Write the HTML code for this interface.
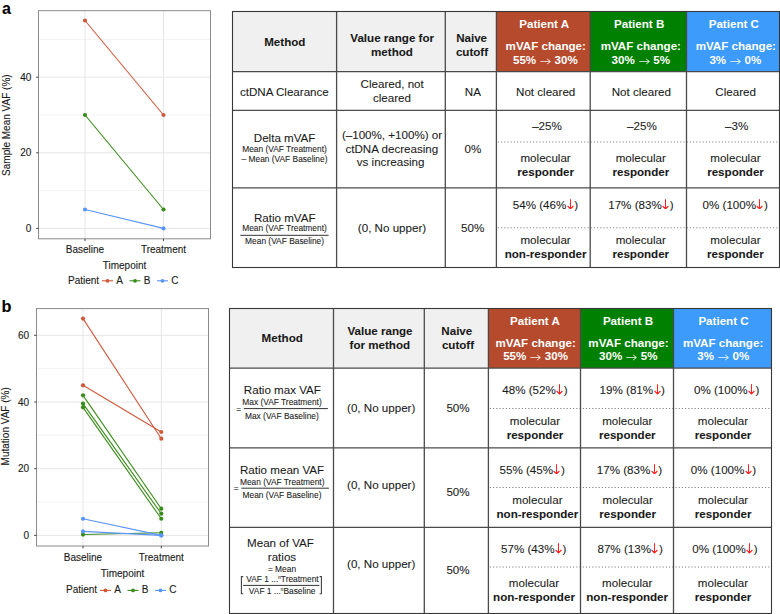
<!DOCTYPE html>
<html><head><meta charset="utf-8"><style>
html,body{margin:0;padding:0;background:#fff;}
body{width:780px;height:614px;position:relative;overflow:hidden;font-family:"Liberation Sans",sans-serif;}
.t{position:absolute;white-space:nowrap;-webkit-text-stroke:0.08px currentColor;}
svg text{stroke:#1c1c1c;stroke-width:0.12px;}
sup{font-size:55%;vertical-align:top;position:relative;top:-1px;}
</style></head><body>
<svg width="230" height="614" viewBox="0 0 230 614" style="position:absolute;left:0;top:0" font-family="Liberation Sans, sans-serif" fill="#1c1c1c"><line x1="38.5" x2="210.5" y1="190.60" y2="190.60" stroke="#f0f0f0" stroke-width="0.8"/><line x1="38.5" x2="210.5" y1="115.00" y2="115.00" stroke="#f0f0f0" stroke-width="0.8"/><line x1="38.5" x2="210.5" y1="39.40" y2="39.40" stroke="#f0f0f0" stroke-width="0.8"/><line x1="38.5" x2="210.5" y1="228.40" y2="228.40" stroke="#e6e6e6" stroke-width="1"/><line x1="38.5" x2="210.5" y1="152.80" y2="152.80" stroke="#e6e6e6" stroke-width="1"/><line x1="38.5" x2="210.5" y1="77.20" y2="77.20" stroke="#e6e6e6" stroke-width="1"/><line x1="85" x2="85" y1="10.7" y2="238.8" stroke="#e6e6e6" stroke-width="1"/><line x1="163.5" x2="163.5" y1="10.7" y2="238.8" stroke="#e6e6e6" stroke-width="1"/><line x1="85" y1="20.50" x2="163.5" y2="115.00" stroke="#d0593b" stroke-width="1.1"/><line x1="85" y1="115.00" x2="163.5" y2="209.50" stroke="#3a8c1a" stroke-width="1.1"/><line x1="85" y1="209.50" x2="163.5" y2="228.40" stroke="#5b95f5" stroke-width="1.1"/><circle cx="85" cy="20.50" r="2.1" fill="#d0593b"/><circle cx="163.5" cy="115.00" r="2.1" fill="#d0593b"/><circle cx="85" cy="115.00" r="2.1" fill="#3a8c1a"/><circle cx="163.5" cy="209.50" r="2.1" fill="#3a8c1a"/><circle cx="85" cy="209.50" r="2.1" fill="#5b95f5"/><circle cx="163.5" cy="228.40" r="2.1" fill="#5b95f5"/><rect x="38.5" y="10.7" width="172.0" height="228.10000000000002" fill="none" stroke="#8a8a8a" stroke-width="1"/><line x1="36.2" x2="38.5" y1="228.40" y2="228.40" stroke="#444" stroke-width="1"/><text x="31.3" y="231.90" text-anchor="end" font-size="10.0">0</text><line x1="36.2" x2="38.5" y1="152.80" y2="152.80" stroke="#444" stroke-width="1"/><text x="31.3" y="156.30" text-anchor="end" font-size="10.0">20</text><line x1="36.2" x2="38.5" y1="77.20" y2="77.20" stroke="#444" stroke-width="1"/><text x="31.3" y="80.70" text-anchor="end" font-size="10.0">40</text><line x1="85" x2="85" y1="238.8" y2="241.10000000000002" stroke="#444" stroke-width="1"/><line x1="163.5" x2="163.5" y1="238.8" y2="241.10000000000002" stroke="#444" stroke-width="1"/><text x="85" y="253.3" text-anchor="middle" font-size="10.0">Baseline</text><text x="163.5" y="253.3" text-anchor="middle" font-size="10.0">Treatment</text><text x="124.5" y="268.7" text-anchor="middle" font-size="10.0">Timepoint</text><text transform="translate(10.3,175.9) rotate(-90)" x="0" y="0" font-size="10.0">Sample Mean VAF (%)</text><text x="68" y="283.7" font-size="10.0">Patient</text><line x1="102.0" x2="113.0" y1="280.8" y2="280.8" stroke="#d0593b" stroke-width="1.1"/><circle cx="107.5" cy="280.8" r="1.9" fill="#d0593b"/><text x="116.3" y="283.7" font-size="10.0">A</text><line x1="129.5" x2="140.5" y1="280.8" y2="280.8" stroke="#3a8c1a" stroke-width="1.1"/><circle cx="135.0" cy="280.8" r="1.9" fill="#3a8c1a"/><text x="143.8" y="283.7" font-size="10.0">B</text><line x1="157.0" x2="168.0" y1="280.8" y2="280.8" stroke="#5b95f5" stroke-width="1.1"/><circle cx="162.5" cy="280.8" r="1.9" fill="#5b95f5"/><text x="171.3" y="283.7" font-size="10.0">C</text><line x1="36.5" x2="208.5" y1="502.05" y2="502.05" stroke="#f0f0f0" stroke-width="0.8"/><line x1="36.5" x2="208.5" y1="435.35" y2="435.35" stroke="#f0f0f0" stroke-width="0.8"/><line x1="36.5" x2="208.5" y1="368.65" y2="368.65" stroke="#f0f0f0" stroke-width="0.8"/><line x1="36.5" x2="208.5" y1="535.40" y2="535.40" stroke="#e6e6e6" stroke-width="1"/><line x1="36.5" x2="208.5" y1="468.70" y2="468.70" stroke="#e6e6e6" stroke-width="1"/><line x1="36.5" x2="208.5" y1="402.00" y2="402.00" stroke="#e6e6e6" stroke-width="1"/><line x1="36.5" x2="208.5" y1="335.30" y2="335.30" stroke="#e6e6e6" stroke-width="1"/><line x1="83" x2="83" y1="308.6" y2="546" stroke="#e6e6e6" stroke-width="1"/><line x1="161.3" x2="161.3" y1="308.6" y2="546" stroke="#e6e6e6" stroke-width="1"/><line x1="83" y1="318.62" x2="161.3" y2="438.68" stroke="#d0593b" stroke-width="1.1"/><line x1="83" y1="385.32" x2="161.3" y2="432.01" stroke="#d0593b" stroke-width="1.1"/><line x1="83" y1="395.33" x2="161.3" y2="508.72" stroke="#3a8c1a" stroke-width="1.1"/><line x1="83" y1="403.67" x2="161.3" y2="513.72" stroke="#3a8c1a" stroke-width="1.1"/><line x1="83" y1="407.34" x2="161.3" y2="518.73" stroke="#3a8c1a" stroke-width="1.1"/><line x1="83" y1="534.57" x2="161.3" y2="532.73" stroke="#3a8c1a" stroke-width="1.1"/><line x1="83" y1="518.73" x2="161.3" y2="535.40" stroke="#5b95f5" stroke-width="1.1"/><line x1="83" y1="531.40" x2="161.3" y2="535.40" stroke="#5b95f5" stroke-width="1.1"/><circle cx="83" cy="318.62" r="2.1" fill="#d0593b"/><circle cx="161.3" cy="438.68" r="2.1" fill="#d0593b"/><circle cx="83" cy="385.32" r="2.1" fill="#d0593b"/><circle cx="161.3" cy="432.01" r="2.1" fill="#d0593b"/><circle cx="83" cy="395.33" r="2.1" fill="#3a8c1a"/><circle cx="161.3" cy="508.72" r="2.1" fill="#3a8c1a"/><circle cx="83" cy="403.67" r="2.1" fill="#3a8c1a"/><circle cx="161.3" cy="513.72" r="2.1" fill="#3a8c1a"/><circle cx="83" cy="407.34" r="2.1" fill="#3a8c1a"/><circle cx="161.3" cy="518.73" r="2.1" fill="#3a8c1a"/><circle cx="83" cy="534.57" r="2.1" fill="#3a8c1a"/><circle cx="161.3" cy="532.73" r="2.1" fill="#3a8c1a"/><circle cx="83" cy="518.73" r="2.1" fill="#5b95f5"/><circle cx="161.3" cy="535.40" r="2.1" fill="#5b95f5"/><circle cx="83" cy="531.40" r="2.1" fill="#5b95f5"/><circle cx="161.3" cy="535.40" r="2.1" fill="#5b95f5"/><rect x="36.5" y="308.6" width="172.0" height="237.39999999999998" fill="none" stroke="#8a8a8a" stroke-width="1"/><line x1="34.2" x2="36.5" y1="535.40" y2="535.40" stroke="#444" stroke-width="1"/><text x="29.1" y="538.90" text-anchor="end" font-size="10.0">0</text><line x1="34.2" x2="36.5" y1="468.70" y2="468.70" stroke="#444" stroke-width="1"/><text x="29.1" y="472.20" text-anchor="end" font-size="10.0">20</text><line x1="34.2" x2="36.5" y1="402.00" y2="402.00" stroke="#444" stroke-width="1"/><text x="29.1" y="405.50" text-anchor="end" font-size="10.0">40</text><line x1="34.2" x2="36.5" y1="335.30" y2="335.30" stroke="#444" stroke-width="1"/><text x="29.1" y="338.80" text-anchor="end" font-size="10.0">60</text><line x1="83" x2="83" y1="546" y2="548.3" stroke="#444" stroke-width="1"/><line x1="161.3" x2="161.3" y1="546" y2="548.3" stroke="#444" stroke-width="1"/><text x="83" y="560.8" text-anchor="middle" font-size="10.0">Baseline</text><text x="161.3" y="560.8" text-anchor="middle" font-size="10.0">Treatment</text><text x="122.5" y="577" text-anchor="middle" font-size="10.0">Timepoint</text><text transform="translate(8.8,465.4) rotate(-90)" x="0" y="0" font-size="10.0">Mutation VAF (%)</text><text x="66" y="593.3" font-size="10.0">Patient</text><line x1="100.0" x2="111.0" y1="590.4" y2="590.4" stroke="#d0593b" stroke-width="1.1"/><circle cx="105.5" cy="590.4" r="1.9" fill="#d0593b"/><text x="114.3" y="593.3" font-size="10.0">A</text><line x1="127.5" x2="138.5" y1="590.4" y2="590.4" stroke="#3a8c1a" stroke-width="1.1"/><circle cx="133.0" cy="590.4" r="1.9" fill="#3a8c1a"/><text x="141.8" y="593.3" font-size="10.0">B</text><line x1="155.0" x2="166.0" y1="590.4" y2="590.4" stroke="#5b95f5" stroke-width="1.1"/><circle cx="160.5" cy="590.4" r="1.9" fill="#5b95f5"/><text x="169.3" y="593.3" font-size="10.0">C</text></svg>
<div style="position:absolute;left:232px;top:11px;width:264.40px;height:60.60px;background:#f0f0f0;"></div>
<div style="position:absolute;left:496.40px;top:11px;width:93.80px;height:60.60px;background:#b64a2c;"></div>
<div style="position:absolute;left:590.20px;top:11px;width:96.30px;height:60.60px;background:#008000;"></div>
<div style="position:absolute;left:686.50px;top:11px;width:92.90px;height:60.60px;background:#3d9bfc;"></div>
<div style="position:absolute;left:229.60px;top:308px;width:258.80px;height:60.20px;background:#f0f0f0;"></div>
<div style="position:absolute;left:488.40px;top:308px;width:92.10px;height:60.20px;background:#b64a2c;"></div>
<div style="position:absolute;left:580.50px;top:308px;width:93px;height:60.20px;background:#008000;"></div>
<div style="position:absolute;left:673.50px;top:308px;width:98px;height:60.20px;background:#3d9bfc;"></div>
<svg width="780" height="614" style="position:absolute;left:0;top:0"><line x1="497.9" x2="778.9" y1="142.0" y2="142.0" stroke="#7a7a7a" stroke-width="1" stroke-dasharray="1.1 2.1"/><line x1="497.9" x2="778.9" y1="227.8" y2="227.8" stroke="#7a7a7a" stroke-width="1" stroke-dasharray="1.1 2.1"/><line x1="336.6" x2="336.6" y1="11" y2="267.3" stroke="#4a4a4a" stroke-width="1.3"/><line x1="445.3" x2="445.3" y1="11" y2="267.3" stroke="#4a4a4a" stroke-width="1.3"/><line x1="496.4" x2="496.4" y1="11" y2="267.3" stroke="#4a4a4a" stroke-width="1.3"/><line x1="590.2" x2="590.2" y1="11" y2="267.3" stroke="#4a4a4a" stroke-width="1.3"/><line x1="686.5" x2="686.5" y1="11" y2="267.3" stroke="#4a4a4a" stroke-width="1.3"/><line x1="232" x2="779.4" y1="71.6" y2="71.6" stroke="#4a4a4a" stroke-width="1.3"/><line x1="232" x2="779.4" y1="110.3" y2="110.3" stroke="#4a4a4a" stroke-width="1.3"/><line x1="232" x2="779.4" y1="187.8" y2="187.8" stroke="#4a4a4a" stroke-width="1.3"/><rect x="232.5" y="11.5" width="547" height="256" fill="none" stroke="#383838" stroke-width="1.1"/><line x1="240.3" x2="328.6" y1="235.3" y2="235.3" stroke="#333" stroke-width="1.0"/><line x1="489.9" x2="771.0" y1="408.5" y2="408.5" stroke="#7a7a7a" stroke-width="1" stroke-dasharray="1.1 2.1"/><line x1="489.9" x2="771.0" y1="487.5" y2="487.5" stroke="#7a7a7a" stroke-width="1" stroke-dasharray="1.1 2.1"/><line x1="489.9" x2="771.0" y1="567.0" y2="567.0" stroke="#7a7a7a" stroke-width="1" stroke-dasharray="1.1 2.1"/><line x1="333.5" x2="333.5" y1="308" y2="613.4" stroke="#4a4a4a" stroke-width="1.3"/><line x1="424.3" x2="424.3" y1="308" y2="613.4" stroke="#4a4a4a" stroke-width="1.3"/><line x1="488.4" x2="488.4" y1="308" y2="613.4" stroke="#4a4a4a" stroke-width="1.3"/><line x1="580.5" x2="580.5" y1="308" y2="613.4" stroke="#4a4a4a" stroke-width="1.3"/><line x1="673.5" x2="673.5" y1="308" y2="613.4" stroke="#4a4a4a" stroke-width="1.3"/><line x1="229.6" x2="771.5" y1="368.2" y2="368.2" stroke="#4a4a4a" stroke-width="1.3"/><line x1="229.6" x2="771.5" y1="447.8" y2="447.8" stroke="#4a4a4a" stroke-width="1.3"/><line x1="229.6" x2="771.5" y1="527.4" y2="527.4" stroke="#4a4a4a" stroke-width="1.3"/><rect x="229.5" y="308.5" width="542" height="305" fill="none" stroke="#383838" stroke-width="1.1"/><line x1="243.8" x2="327.9" y1="408.6" y2="408.6" stroke="#333" stroke-width="1.0"/><line x1="241.4" x2="328.9" y1="488.2" y2="488.2" stroke="#333" stroke-width="1.0"/><line x1="243.1" x2="319.4" y1="585.4" y2="585.4" stroke="#333" stroke-width="1.0"/><path d="M243.2,576.6 L241.4,576.6 L241.4,593.8 L243.2,593.8" fill="none" stroke="#444" stroke-width="1.1"/><path d="M319.6,576.6 L321.4,576.6 L321.4,593.8 L319.6,593.8" fill="none" stroke="#444" stroke-width="1.1"/></svg>
<div class="t" style="left:134.80px;top:34.73px;width:300px;font-size:11.6px;line-height:14.5px;text-align:center;color:#1a1a1a;font-weight:bold;">Method</div>
<div class="t" style="left:242.20px;top:30.93px;width:300px;font-size:11.6px;line-height:14.5px;text-align:center;color:#1a1a1a;font-weight:bold;">Value range for</div>
<div class="t" style="left:242px;top:44.93px;width:300px;font-size:11.6px;line-height:14.5px;text-align:center;color:#1a1a1a;font-weight:bold;">method</div>
<div class="t" style="left:321.60px;top:30.93px;width:300px;font-size:11.6px;line-height:14.5px;text-align:center;color:#1a1a1a;font-weight:bold;">Naive</div>
<div class="t" style="left:322px;top:44.93px;width:300px;font-size:11.6px;line-height:14.5px;text-align:center;color:#1a1a1a;font-weight:bold;">cutoff</div>
<div class="t" style="left:394.20px;top:17.03px;width:300px;font-size:11.6px;line-height:14.5px;text-align:center;color:#fff;font-weight:bold;-webkit-text-stroke:0;">Patient A</div>
<div class="t" style="left:395.75px;top:38.93px;width:300px;font-size:11.6px;line-height:14.5px;text-align:center;color:#fff;font-weight:bold;-webkit-text-stroke:0;">mVAF change:</div>
<div class="t" style="left:395.40px;top:52.73px;width:300px;font-size:11.6px;line-height:14.5px;text-align:center;color:#fff;font-weight:bold;-webkit-text-stroke:0;">55% <svg width="11" height="7" viewBox="0 0 11 7" style="vertical-align:-0.8px;margin:0 0.5px"><line x1="0.3" y1="3.5" x2="10" y2="3.5" stroke="#fff" stroke-opacity="0.85" stroke-width="0.85"/><path d="M7.2,1 L10.4,3.5 L7.2,6" fill="none" stroke="#fff" stroke-width="0.9"/></svg> 30%</div>
<div class="t" style="left:489.20px;top:17.03px;width:300px;font-size:11.6px;line-height:14.5px;text-align:center;color:#fff;font-weight:bold;-webkit-text-stroke:0;">Patient B</div>
<div class="t" style="left:490.80px;top:38.93px;width:300px;font-size:11.6px;line-height:14.5px;text-align:center;color:#fff;font-weight:bold;-webkit-text-stroke:0;">mVAF change:</div>
<div class="t" style="left:490.80px;top:52.73px;width:300px;font-size:11.6px;line-height:14.5px;text-align:center;color:#fff;font-weight:bold;-webkit-text-stroke:0;">30% <svg width="11" height="7" viewBox="0 0 11 7" style="vertical-align:-0.8px;margin:0 0.5px"><line x1="0.3" y1="3.5" x2="10" y2="3.5" stroke="#fff" stroke-opacity="0.85" stroke-width="0.85"/><path d="M7.2,1 L10.4,3.5 L7.2,6" fill="none" stroke="#fff" stroke-width="0.9"/></svg> 5%</div>
<div class="t" style="left:583.80px;top:17.03px;width:300px;font-size:11.6px;line-height:14.5px;text-align:center;color:#fff;font-weight:bold;-webkit-text-stroke:0;">Patient C</div>
<div class="t" style="left:585.80px;top:38.93px;width:300px;font-size:11.6px;line-height:14.5px;text-align:center;color:#fff;font-weight:bold;-webkit-text-stroke:0;">mVAF change:</div>
<div class="t" style="left:585.40px;top:52.73px;width:300px;font-size:11.6px;line-height:14.5px;text-align:center;color:#fff;font-weight:bold;-webkit-text-stroke:0;">3% <svg width="11" height="7" viewBox="0 0 11 7" style="vertical-align:-0.8px;margin:0 0.5px"><line x1="0.3" y1="3.5" x2="10" y2="3.5" stroke="#fff" stroke-opacity="0.85" stroke-width="0.85"/><path d="M7.2,1 L10.4,3.5 L7.2,6" fill="none" stroke="#fff" stroke-width="0.9"/></svg> 0%</div>
<div class="t" style="left:134.35px;top:84.83px;width:300px;font-size:11.6px;line-height:14.5px;text-align:center;color:#1a1a1a;">ctDNA Clearance</div>
<div class="t" style="left:242.20px;top:77.13px;width:300px;font-size:11.6px;line-height:14.5px;text-align:center;color:#1a1a1a;">Cleared, not</div>
<div class="t" style="left:241.90px;top:91.33px;width:300px;font-size:11.6px;line-height:14.5px;text-align:center;color:#1a1a1a;">cleared</div>
<div class="t" style="left:322.90px;top:84.83px;width:300px;font-size:11.6px;line-height:14.5px;text-align:center;color:#1a1a1a;">NA</div>
<div class="t" style="left:395.70px;top:84.83px;width:300px;font-size:11.6px;line-height:14.5px;text-align:center;color:#1a1a1a;">Not cleared</div>
<div class="t" style="left:491.30px;top:84.83px;width:300px;font-size:11.6px;line-height:14.5px;text-align:center;color:#1a1a1a;">Not cleared</div>
<div class="t" style="left:585.60px;top:84.83px;width:300px;font-size:11.6px;line-height:14.5px;text-align:center;color:#1a1a1a;">Cleared</div>
<div class="t" style="left:134.60px;top:131.13px;width:300px;font-size:11.6px;line-height:14.5px;text-align:center;color:#1a1a1a;">Delta mVAF</div>
<div class="t" style="left:134.50px;top:144.04px;width:300px;font-size:8.4px;line-height:10.5px;text-align:center;color:#1a1a1a;">Mean (VAF Treatment)</div>
<div class="t" style="left:134.50px;top:153.54px;width:300px;font-size:8.4px;line-height:10.5px;text-align:center;color:#1a1a1a;">&#8211; Mean (VAF Baseline)</div>
<div class="t" style="left:242px;top:127.73px;width:300px;font-size:11.6px;line-height:14.5px;text-align:center;color:#1a1a1a;">(&#8211;100%, +100%) or</div>
<div class="t" style="left:241.85px;top:141.53px;width:300px;font-size:11.6px;line-height:14.5px;text-align:center;color:#1a1a1a;">ctDNA decreasing</div>
<div class="t" style="left:240.60px;top:155.43px;width:300px;font-size:11.6px;line-height:14.5px;text-align:center;color:#1a1a1a;">vs increasing</div>
<div class="t" style="left:323px;top:142.13px;width:300px;font-size:11.6px;line-height:14.5px;text-align:center;color:#1a1a1a;">0%</div>
<div class="t" style="left:397px;top:118.93px;width:300px;font-size:11.6px;line-height:14.5px;text-align:center;color:#1a1a1a;">&#8211;25%</div>
<div class="t" style="left:395.60px;top:151.03px;width:300px;font-size:11.6px;line-height:14.5px;text-align:center;color:#1a1a1a;">molecular</div>
<div class="t" style="left:395.70px;top:164.63px;width:300px;font-size:11.6px;line-height:14.5px;text-align:center;color:#1a1a1a;font-weight:bold;">responder</div>
<div class="t" style="left:491.90px;top:118.93px;width:300px;font-size:11.6px;line-height:14.5px;text-align:center;color:#1a1a1a;">&#8211;25%</div>
<div class="t" style="left:490.80px;top:151.03px;width:300px;font-size:11.6px;line-height:14.5px;text-align:center;color:#1a1a1a;">molecular</div>
<div class="t" style="left:490.90px;top:164.63px;width:300px;font-size:11.6px;line-height:14.5px;text-align:center;color:#1a1a1a;font-weight:bold;">responder</div>
<div class="t" style="left:586.70px;top:118.93px;width:300px;font-size:11.6px;line-height:14.5px;text-align:center;color:#1a1a1a;">&#8211;3%</div>
<div class="t" style="left:585.40px;top:151.03px;width:300px;font-size:11.6px;line-height:14.5px;text-align:center;color:#1a1a1a;">molecular</div>
<div class="t" style="left:585.50px;top:164.63px;width:300px;font-size:11.6px;line-height:14.5px;text-align:center;color:#1a1a1a;font-weight:bold;">responder</div>
<div class="t" style="left:134.75px;top:211.03px;width:300px;font-size:11.6px;line-height:14.5px;text-align:center;color:#1a1a1a;">Ratio mVAF</div>
<div class="t" style="left:134.50px;top:222.94px;width:300px;font-size:8.4px;line-height:10.5px;text-align:center;color:#1a1a1a;">Mean (VAF Treatment)</div>
<div class="t" style="left:134.60px;top:236.44px;width:300px;font-size:8.4px;line-height:10.5px;text-align:center;color:#1a1a1a;">Mean (VAF Baseline)</div>
<div class="t" style="left:242px;top:220.93px;width:300px;font-size:11.6px;line-height:14.5px;text-align:center;color:#1a1a1a;">(0, No upper)</div>
<div class="t" style="left:322.60px;top:220.93px;width:300px;font-size:11.6px;line-height:14.5px;text-align:center;color:#1a1a1a;">50%</div>
<div class="t" style="left:395.45px;top:197.53px;width:300px;font-size:11.6px;line-height:14.5px;text-align:center;color:#1a1a1a;">54% (46%<svg width="7" height="10.5" viewBox="0 0 7 10.5" style="vertical-align:-0.6px;margin:0 0.6px 0 0.4px"><line x1="3.5" y1="0.2" x2="3.5" y2="9.4" stroke="#ff2020" stroke-width="1"/><path d="M0.6,7.0 L3.5,9.9 L6.4,7.0" fill="none" stroke="#ff2020" stroke-width="1.1"/><path d="M2,8.1 L3.5,9.9 L5,8.1 Z" fill="#ff2020"/></svg>)</div>
<div class="t" style="left:395.60px;top:233.03px;width:300px;font-size:11.6px;line-height:14.5px;text-align:center;color:#1a1a1a;">molecular</div>
<div class="t" style="left:395.60px;top:246.53px;width:300px;font-size:11.6px;line-height:14.5px;text-align:center;color:#1a1a1a;font-weight:bold;">non-responder</div>
<div class="t" style="left:490.90px;top:197.53px;width:300px;font-size:11.6px;line-height:14.5px;text-align:center;color:#1a1a1a;">17% (83%<svg width="7" height="10.5" viewBox="0 0 7 10.5" style="vertical-align:-0.6px;margin:0 0.6px 0 0.4px"><line x1="3.5" y1="0.2" x2="3.5" y2="9.4" stroke="#ff2020" stroke-width="1"/><path d="M0.6,7.0 L3.5,9.9 L6.4,7.0" fill="none" stroke="#ff2020" stroke-width="1.1"/><path d="M2,8.1 L3.5,9.9 L5,8.1 Z" fill="#ff2020"/></svg>)</div>
<div class="t" style="left:490.80px;top:233.03px;width:300px;font-size:11.6px;line-height:14.5px;text-align:center;color:#1a1a1a;">molecular</div>
<div class="t" style="left:490.80px;top:246.53px;width:300px;font-size:11.6px;line-height:14.5px;text-align:center;color:#1a1a1a;font-weight:bold;">responder</div>
<div class="t" style="left:585.25px;top:197.53px;width:300px;font-size:11.6px;line-height:14.5px;text-align:center;color:#1a1a1a;">0% (100%<svg width="7" height="10.5" viewBox="0 0 7 10.5" style="vertical-align:-0.6px;margin:0 0.6px 0 0.4px"><line x1="3.5" y1="0.2" x2="3.5" y2="9.4" stroke="#ff2020" stroke-width="1"/><path d="M0.6,7.0 L3.5,9.9 L6.4,7.0" fill="none" stroke="#ff2020" stroke-width="1.1"/><path d="M2,8.1 L3.5,9.9 L5,8.1 Z" fill="#ff2020"/></svg>)</div>
<div class="t" style="left:585.40px;top:233.03px;width:300px;font-size:11.6px;line-height:14.5px;text-align:center;color:#1a1a1a;">molecular</div>
<div class="t" style="left:585.40px;top:246.53px;width:300px;font-size:11.6px;line-height:14.5px;text-align:center;color:#1a1a1a;font-weight:bold;">responder</div>
<div class="t" style="left:132.20px;top:331.33px;width:300px;font-size:11.6px;line-height:14.5px;text-align:center;color:#1a1a1a;font-weight:bold;">Method</div>
<div class="t" style="left:230px;top:324.43px;width:300px;font-size:11.6px;line-height:14.5px;text-align:center;color:#1a1a1a;font-weight:bold;">Value range</div>
<div class="t" style="left:229.80px;top:338.43px;width:300px;font-size:11.6px;line-height:14.5px;text-align:center;color:#1a1a1a;font-weight:bold;">for method</div>
<div class="t" style="left:306.80px;top:324.33px;width:300px;font-size:11.6px;line-height:14.5px;text-align:center;color:#1a1a1a;font-weight:bold;">Naive</div>
<div class="t" style="left:308px;top:338.33px;width:300px;font-size:11.6px;line-height:14.5px;text-align:center;color:#1a1a1a;font-weight:bold;">cutoff</div>
<div class="t" style="left:385px;top:314.03px;width:300px;font-size:11.6px;line-height:14.5px;text-align:center;color:#fff;font-weight:bold;-webkit-text-stroke:0;">Patient A</div>
<div class="t" style="left:385.70px;top:335.73px;width:300px;font-size:11.6px;line-height:14.5px;text-align:center;color:#fff;font-weight:bold;-webkit-text-stroke:0;">mVAF change:</div>
<div class="t" style="left:385.60px;top:349.33px;width:300px;font-size:11.6px;line-height:14.5px;text-align:center;color:#fff;font-weight:bold;-webkit-text-stroke:0;">55% <svg width="11" height="7" viewBox="0 0 11 7" style="vertical-align:-0.8px;margin:0 0.5px"><line x1="0.3" y1="3.5" x2="10" y2="3.5" stroke="#fff" stroke-opacity="0.85" stroke-width="0.85"/><path d="M7.2,1 L10.4,3.5 L7.2,6" fill="none" stroke="#fff" stroke-width="0.9"/></svg> 30%</div>
<div class="t" style="left:478px;top:314.03px;width:300px;font-size:11.6px;line-height:14.5px;text-align:center;color:#fff;font-weight:bold;-webkit-text-stroke:0;">Patient B</div>
<div class="t" style="left:478.50px;top:335.73px;width:300px;font-size:11.6px;line-height:14.5px;text-align:center;color:#fff;font-weight:bold;-webkit-text-stroke:0;">mVAF change:</div>
<div class="t" style="left:478.30px;top:349.33px;width:300px;font-size:11.6px;line-height:14.5px;text-align:center;color:#fff;font-weight:bold;-webkit-text-stroke:0;">30% <svg width="11" height="7" viewBox="0 0 11 7" style="vertical-align:-0.8px;margin:0 0.5px"><line x1="0.3" y1="3.5" x2="10" y2="3.5" stroke="#fff" stroke-opacity="0.85" stroke-width="0.85"/><path d="M7.2,1 L10.4,3.5 L7.2,6" fill="none" stroke="#fff" stroke-width="0.9"/></svg> 5%</div>
<div class="t" style="left:573.50px;top:314.03px;width:300px;font-size:11.6px;line-height:14.5px;text-align:center;color:#fff;font-weight:bold;-webkit-text-stroke:0;">Patient C</div>
<div class="t" style="left:573.10px;top:335.73px;width:300px;font-size:11.6px;line-height:14.5px;text-align:center;color:#fff;font-weight:bold;-webkit-text-stroke:0;">mVAF change:</div>
<div class="t" style="left:573.30px;top:349.33px;width:300px;font-size:11.6px;line-height:14.5px;text-align:center;color:#fff;font-weight:bold;-webkit-text-stroke:0;">3% <svg width="11" height="7" viewBox="0 0 11 7" style="vertical-align:-0.8px;margin:0 0.5px"><line x1="0.3" y1="3.5" x2="10" y2="3.5" stroke="#fff" stroke-opacity="0.85" stroke-width="0.85"/><path d="M7.2,1 L10.4,3.5 L7.2,6" fill="none" stroke="#fff" stroke-width="0.9"/></svg> 0%</div>
<div class="t" style="left:384.95px;top:383.13px;width:300px;font-size:11.6px;line-height:14.5px;text-align:center;color:#1a1a1a;">48% (52%<svg width="7" height="10.5" viewBox="0 0 7 10.5" style="vertical-align:-0.6px;margin:0 0.6px 0 0.4px"><line x1="3.5" y1="0.2" x2="3.5" y2="9.4" stroke="#ff2020" stroke-width="1"/><path d="M0.6,7.0 L3.5,9.9 L6.4,7.0" fill="none" stroke="#ff2020" stroke-width="1.1"/><path d="M2,8.1 L3.5,9.9 L5,8.1 Z" fill="#ff2020"/></svg>)</div>
<div class="t" style="left:385px;top:413.73px;width:300px;font-size:11.6px;line-height:14.5px;text-align:center;color:#1a1a1a;">molecular</div>
<div class="t" style="left:385px;top:428.03px;width:300px;font-size:11.6px;line-height:14.5px;text-align:center;color:#1a1a1a;font-weight:bold;">responder</div>
<div class="t" style="left:482.30px;top:383.13px;width:300px;font-size:11.6px;line-height:14.5px;text-align:center;color:#1a1a1a;">19% (81%<svg width="7" height="10.5" viewBox="0 0 7 10.5" style="vertical-align:-0.6px;margin:0 0.6px 0 0.4px"><line x1="3.5" y1="0.2" x2="3.5" y2="9.4" stroke="#ff2020" stroke-width="1"/><path d="M0.6,7.0 L3.5,9.9 L6.4,7.0" fill="none" stroke="#ff2020" stroke-width="1.1"/><path d="M2,8.1 L3.5,9.9 L5,8.1 Z" fill="#ff2020"/></svg>)</div>
<div class="t" style="left:477.30px;top:413.73px;width:300px;font-size:11.6px;line-height:14.5px;text-align:center;color:#1a1a1a;">molecular</div>
<div class="t" style="left:477.30px;top:428.03px;width:300px;font-size:11.6px;line-height:14.5px;text-align:center;color:#1a1a1a;font-weight:bold;">responder</div>
<div class="t" style="left:576.65px;top:383.13px;width:300px;font-size:11.6px;line-height:14.5px;text-align:center;color:#1a1a1a;">0% (100%<svg width="7" height="10.5" viewBox="0 0 7 10.5" style="vertical-align:-0.6px;margin:0 0.6px 0 0.4px"><line x1="3.5" y1="0.2" x2="3.5" y2="9.4" stroke="#ff2020" stroke-width="1"/><path d="M0.6,7.0 L3.5,9.9 L6.4,7.0" fill="none" stroke="#ff2020" stroke-width="1.1"/><path d="M2,8.1 L3.5,9.9 L5,8.1 Z" fill="#ff2020"/></svg>)</div>
<div class="t" style="left:573px;top:413.73px;width:300px;font-size:11.6px;line-height:14.5px;text-align:center;color:#1a1a1a;">molecular</div>
<div class="t" style="left:573px;top:428.03px;width:300px;font-size:11.6px;line-height:14.5px;text-align:center;color:#1a1a1a;font-weight:bold;">responder</div>
<div class="t" style="left:382.25px;top:462.53px;width:300px;font-size:11.6px;line-height:14.5px;text-align:center;color:#1a1a1a;">55% (45%<svg width="7" height="10.5" viewBox="0 0 7 10.5" style="vertical-align:-0.6px;margin:0 0.6px 0 0.4px"><line x1="3.5" y1="0.2" x2="3.5" y2="9.4" stroke="#ff2020" stroke-width="1"/><path d="M0.6,7.0 L3.5,9.9 L6.4,7.0" fill="none" stroke="#ff2020" stroke-width="1.1"/><path d="M2,8.1 L3.5,9.9 L5,8.1 Z" fill="#ff2020"/></svg>)</div>
<div class="t" style="left:387.40px;top:493.13px;width:300px;font-size:11.6px;line-height:14.5px;text-align:center;color:#1a1a1a;">molecular</div>
<div class="t" style="left:387.40px;top:507.13px;width:300px;font-size:11.6px;line-height:14.5px;text-align:center;color:#1a1a1a;font-weight:bold;">non-responder</div>
<div class="t" style="left:479.45px;top:462.53px;width:300px;font-size:11.6px;line-height:14.5px;text-align:center;color:#1a1a1a;">17% (83%<svg width="7" height="10.5" viewBox="0 0 7 10.5" style="vertical-align:-0.6px;margin:0 0.6px 0 0.4px"><line x1="3.5" y1="0.2" x2="3.5" y2="9.4" stroke="#ff2020" stroke-width="1"/><path d="M0.6,7.0 L3.5,9.9 L6.4,7.0" fill="none" stroke="#ff2020" stroke-width="1.1"/><path d="M2,8.1 L3.5,9.9 L5,8.1 Z" fill="#ff2020"/></svg>)</div>
<div class="t" style="left:477.70px;top:493.13px;width:300px;font-size:11.6px;line-height:14.5px;text-align:center;color:#1a1a1a;">molecular</div>
<div class="t" style="left:477.70px;top:507.13px;width:300px;font-size:11.6px;line-height:14.5px;text-align:center;color:#1a1a1a;font-weight:bold;">responder</div>
<div class="t" style="left:573.55px;top:462.53px;width:300px;font-size:11.6px;line-height:14.5px;text-align:center;color:#1a1a1a;">0% (100%<svg width="7" height="10.5" viewBox="0 0 7 10.5" style="vertical-align:-0.6px;margin:0 0.6px 0 0.4px"><line x1="3.5" y1="0.2" x2="3.5" y2="9.4" stroke="#ff2020" stroke-width="1"/><path d="M0.6,7.0 L3.5,9.9 L6.4,7.0" fill="none" stroke="#ff2020" stroke-width="1.1"/><path d="M2,8.1 L3.5,9.9 L5,8.1 Z" fill="#ff2020"/></svg>)</div>
<div class="t" style="left:573.10px;top:493.13px;width:300px;font-size:11.6px;line-height:14.5px;text-align:center;color:#1a1a1a;">molecular</div>
<div class="t" style="left:573.10px;top:507.13px;width:300px;font-size:11.6px;line-height:14.5px;text-align:center;color:#1a1a1a;font-weight:bold;">responder</div>
<div class="t" style="left:383.70px;top:541.93px;width:300px;font-size:11.6px;line-height:14.5px;text-align:center;color:#1a1a1a;">57% (43%<svg width="7" height="10.5" viewBox="0 0 7 10.5" style="vertical-align:-0.6px;margin:0 0.6px 0 0.4px"><line x1="3.5" y1="0.2" x2="3.5" y2="9.4" stroke="#ff2020" stroke-width="1"/><path d="M0.6,7.0 L3.5,9.9 L6.4,7.0" fill="none" stroke="#ff2020" stroke-width="1.1"/><path d="M2,8.1 L3.5,9.9 L5,8.1 Z" fill="#ff2020"/></svg>)</div>
<div class="t" style="left:384px;top:576.23px;width:300px;font-size:11.6px;line-height:14.5px;text-align:center;color:#1a1a1a;">molecular</div>
<div class="t" style="left:384px;top:589.93px;width:300px;font-size:11.6px;line-height:14.5px;text-align:center;color:#1a1a1a;font-weight:bold;">non-responder</div>
<div class="t" style="left:480.15px;top:541.93px;width:300px;font-size:11.6px;line-height:14.5px;text-align:center;color:#1a1a1a;">87% (13%<svg width="7" height="10.5" viewBox="0 0 7 10.5" style="vertical-align:-0.6px;margin:0 0.6px 0 0.4px"><line x1="3.5" y1="0.2" x2="3.5" y2="9.4" stroke="#ff2020" stroke-width="1"/><path d="M0.6,7.0 L3.5,9.9 L6.4,7.0" fill="none" stroke="#ff2020" stroke-width="1.1"/><path d="M2,8.1 L3.5,9.9 L5,8.1 Z" fill="#ff2020"/></svg>)</div>
<div class="t" style="left:477.20px;top:576.23px;width:300px;font-size:11.6px;line-height:14.5px;text-align:center;color:#1a1a1a;">molecular</div>
<div class="t" style="left:477.20px;top:589.93px;width:300px;font-size:11.6px;line-height:14.5px;text-align:center;color:#1a1a1a;font-weight:bold;">non-responder</div>
<div class="t" style="left:575.05px;top:541.93px;width:300px;font-size:11.6px;line-height:14.5px;text-align:center;color:#1a1a1a;">0% (100%<svg width="7" height="10.5" viewBox="0 0 7 10.5" style="vertical-align:-0.6px;margin:0 0.6px 0 0.4px"><line x1="3.5" y1="0.2" x2="3.5" y2="9.4" stroke="#ff2020" stroke-width="1"/><path d="M0.6,7.0 L3.5,9.9 L6.4,7.0" fill="none" stroke="#ff2020" stroke-width="1.1"/><path d="M2,8.1 L3.5,9.9 L5,8.1 Z" fill="#ff2020"/></svg>)</div>
<div class="t" style="left:573px;top:576.23px;width:300px;font-size:11.6px;line-height:14.5px;text-align:center;color:#1a1a1a;">molecular</div>
<div class="t" style="left:573px;top:589.93px;width:300px;font-size:11.6px;line-height:14.5px;text-align:center;color:#1a1a1a;font-weight:bold;">responder</div>
<div class="t" style="left:132.40px;top:382.83px;width:300px;font-size:11.6px;line-height:14.5px;text-align:center;color:#1a1a1a;">Ratio max VAF</div>
<div class="t" style="left:132px;top:397.04px;width:300px;font-size:8.4px;line-height:10.5px;text-align:center;color:#1a1a1a;">Max (VAF Treatment)</div>
<div class="t" style="left:131.90px;top:410.54px;width:300px;font-size:8.4px;line-height:10.5px;text-align:center;color:#1a1a1a;">Max (VAF Baseline)</div>
<div class="t" style="left:88.80px;top:404.14px;width:300px;font-size:8.4px;line-height:10.5px;text-align:center;color:#1a1a1a;">=</div>
<div class="t" style="left:231.20px;top:401.33px;width:300px;font-size:11.6px;line-height:14.5px;text-align:center;color:#1a1a1a;">(0, No upper)</div>
<div class="t" style="left:308px;top:401.33px;width:300px;font-size:11.6px;line-height:14.5px;text-align:center;color:#1a1a1a;">50%</div>
<div class="t" style="left:132.10px;top:462.53px;width:300px;font-size:11.6px;line-height:14.5px;text-align:center;color:#1a1a1a;">Ratio mean VAF</div>
<div class="t" style="left:132.20px;top:476.54px;width:300px;font-size:8.4px;line-height:10.5px;text-align:center;color:#1a1a1a;">Mean (VAF Treatment)</div>
<div class="t" style="left:132px;top:489.84px;width:300px;font-size:8.4px;line-height:10.5px;text-align:center;color:#1a1a1a;">Mean (VAF Baseline)</div>
<div class="t" style="left:86.20px;top:483.04px;width:300px;font-size:8.4px;line-height:10.5px;text-align:center;color:#1a1a1a;">=</div>
<div class="t" style="left:231.20px;top:477.93px;width:300px;font-size:11.6px;line-height:14.5px;text-align:center;color:#1a1a1a;">(0, No upper)</div>
<div class="t" style="left:308px;top:484.93px;width:300px;font-size:11.6px;line-height:14.5px;text-align:center;color:#1a1a1a;">50%</div>
<div class="t" style="left:130.45px;top:535.93px;width:300px;font-size:11.6px;line-height:14.5px;text-align:center;color:#1a1a1a;">Mean of VAF</div>
<div class="t" style="left:132px;top:549.93px;width:300px;font-size:11.6px;line-height:14.5px;text-align:center;color:#1a1a1a;">ratios</div>
<div class="t" style="left:132px;top:563.54px;width:300px;font-size:8.4px;line-height:10.5px;text-align:center;color:#1a1a1a;">= Mean</div>
<div class="t" style="left:132.50px;top:574.34px;width:300px;font-size:8.4px;line-height:10.5px;text-align:center;color:#1a1a1a;">VAF 1 ...<sup>n</sup>Treatment</div>
<div class="t" style="left:132.20px;top:585.74px;width:300px;font-size:8.4px;line-height:10.5px;text-align:center;color:#1a1a1a;">VAF 1 ...<sup>n</sup>Baseline</div>
<div class="t" style="left:231.20px;top:556.73px;width:300px;font-size:11.6px;line-height:14.5px;text-align:center;color:#1a1a1a;">(0, No upper)</div>
<div class="t" style="left:308px;top:563.43px;width:300px;font-size:11.6px;line-height:14.5px;text-align:center;color:#1a1a1a;">50%</div>
<div class="t" style="left:1.90px;top:-0.74px;width:30px;font-size:16px;line-height:20.0px;text-align:left;color:#000;font-weight:bold;">a</div>
<div class="t" style="left:1.40px;top:296.01px;width:30px;font-size:16.3px;line-height:20.38px;text-align:left;color:#000;font-weight:bold;">b</div>
</body></html>
